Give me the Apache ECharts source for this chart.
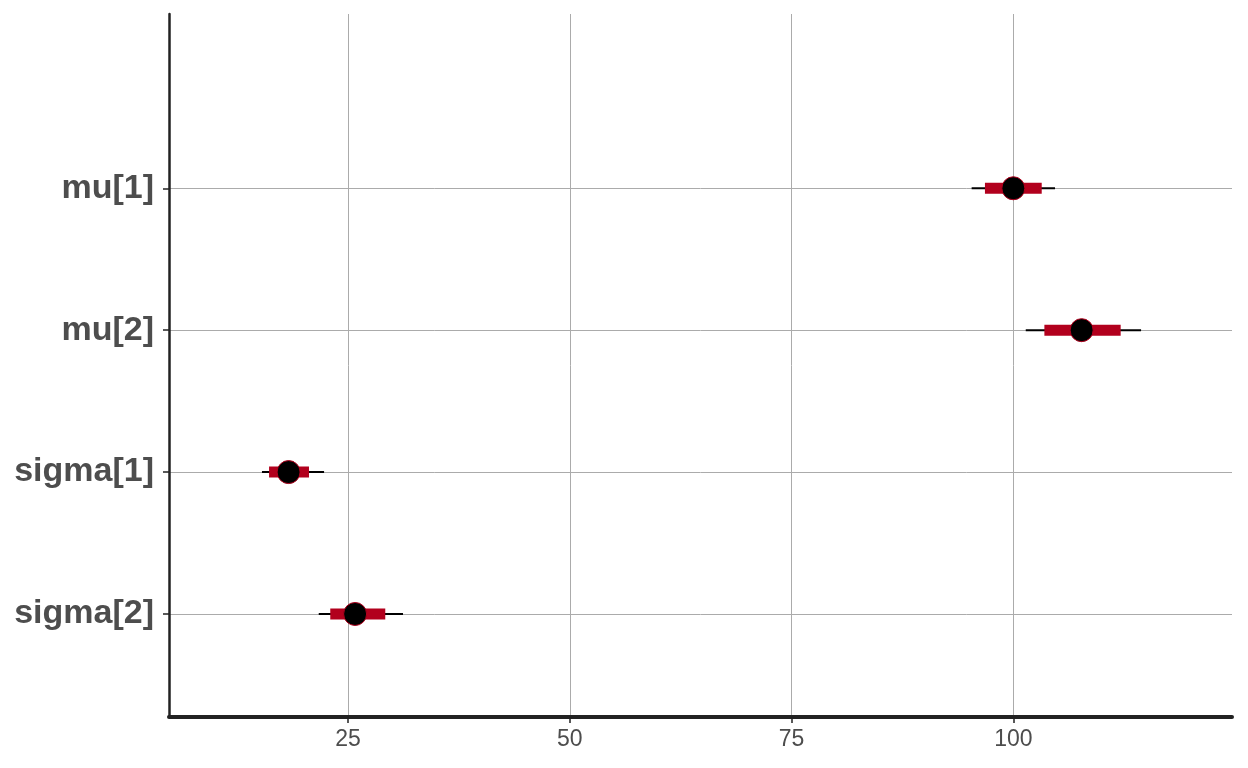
<!DOCTYPE html>
<html>
<head>
<meta charset="utf-8">
<script src="https://cdn.jsdelivr.net/npm/echarts@6/dist/echarts.min.js"></script>
<style>
html,body{margin:0;padding:0;background:#fff;}
#chart{width:1248px;height:768px;}
</style>
</head>
<body>
<div id="chart"></div>
<script>
// Parameters (top to bottom)
var params = ['mu[1]', 'mu[2]', 'sigma[1]', 'sigma[2]'];
// y positions of each parameter row
var rowPos = [4, 3, 2, 1];
// outer interval (thin black line)
var outerLow  = [95.3, 101.4, 15.3, 21.7];
var outerHigh = [104.7, 114.4, 22.3, 31.2];
// inner interval (thick red bar)
var innerLow  = [96.8, 103.5, 16.1, 23.0];
var innerHigh = [103.2, 112.1, 20.6, 29.2];
// point estimate (median)
var median = [100.0, 107.7, 18.3, 25.8];
// x tick labels
var xTicks = [25, 50, 75, 100];

var RED = '#b2001d';
var LABEL = '#4d4d4d';
var GRIDC = '#ababab';
var AXISC = '#222222';

var outerData = params.map(function (p, i) { return [outerLow[i], outerHigh[i], rowPos[i]]; });
var innerData = params.map(function (p, i) { return [innerLow[i], innerHigh[i], rowPos[i]]; });
var pointData = params.map(function (p, i) { return [median[i], rowPos[i]]; });

function makeRender(h, color) {
  return function (prm, api) {
    var a = api.coord([api.value(0), api.value(2)]);
    var b = api.coord([api.value(1), api.value(2)]);
    return {
      type: 'rect',
      shape: { x: a[0], y: a[1] - h / 2, width: b[0] - a[0], height: h },
      style: { fill: color }
    };
  };
}

var chart = echarts.init(document.getElementById('chart'));
chart.setOption({
  animation: false,
  backgroundColor: '#ffffff',
  grid: { left: 169, right: 16, top: 14, bottom: 51 },
  xAxis: {
    type: 'value',
    min: 4.82,
    max: 124.65,
    axisLine: { show: true, lineStyle: { color: AXISC, width: 4 } },
    axisTick: { show: true, length: 6, lineStyle: { color: AXISC, width: 1.5 }, customValues: xTicks },
    axisLabel: { customValues: xTicks, margin: 11, color: LABEL, fontSize: 23, fontFamily: 'Liberation Sans' },
    splitLine: { show: true, lineStyle: { color: GRIDC, width: 1 } }
  },
  yAxis: {
    type: 'value',
    min: 0.274,
    max: 5.228,
    axisLine: { show: true, lineStyle: { color: AXISC, width: 2.5 } },
    axisTick: { show: true, length: 6, lineStyle: { color: AXISC, width: 1.5 }, customValues: rowPos },
    axisLabel: {
      customValues: rowPos,
      margin: 15,
      color: LABEL,
      fontSize: 34,
      fontWeight: 'bold',
      fontFamily: 'Liberation Sans',
      padding: [4, 0, 0, 0],
      formatter: function (v) {
        var i = rowPos.indexOf(Math.round(v));
        return i >= 0 ? params[i] : '';
      }
    },
    splitLine: { show: true, lineStyle: { color: GRIDC, width: 1 } }
  },
  series: [
    {
      type: 'custom',
      renderItem: makeRender(2, '#000000'),
      encode: { x: [0, 1], y: 2 },
      data: outerData,
      z: 2
    },
    {
      type: 'custom',
      renderItem: makeRender(11, RED),
      encode: { x: [0, 1], y: 2 },
      data: innerData,
      z: 3
    },
    {
      type: 'scatter',
      data: pointData,
      symbol: 'circle',
      symbolSize: 23,
      itemStyle: { color: '#000000', borderColor: RED, borderWidth: 1, opacity: 1 },
      z: 4
    }
  ]
});
</script>
</body>
</html>
